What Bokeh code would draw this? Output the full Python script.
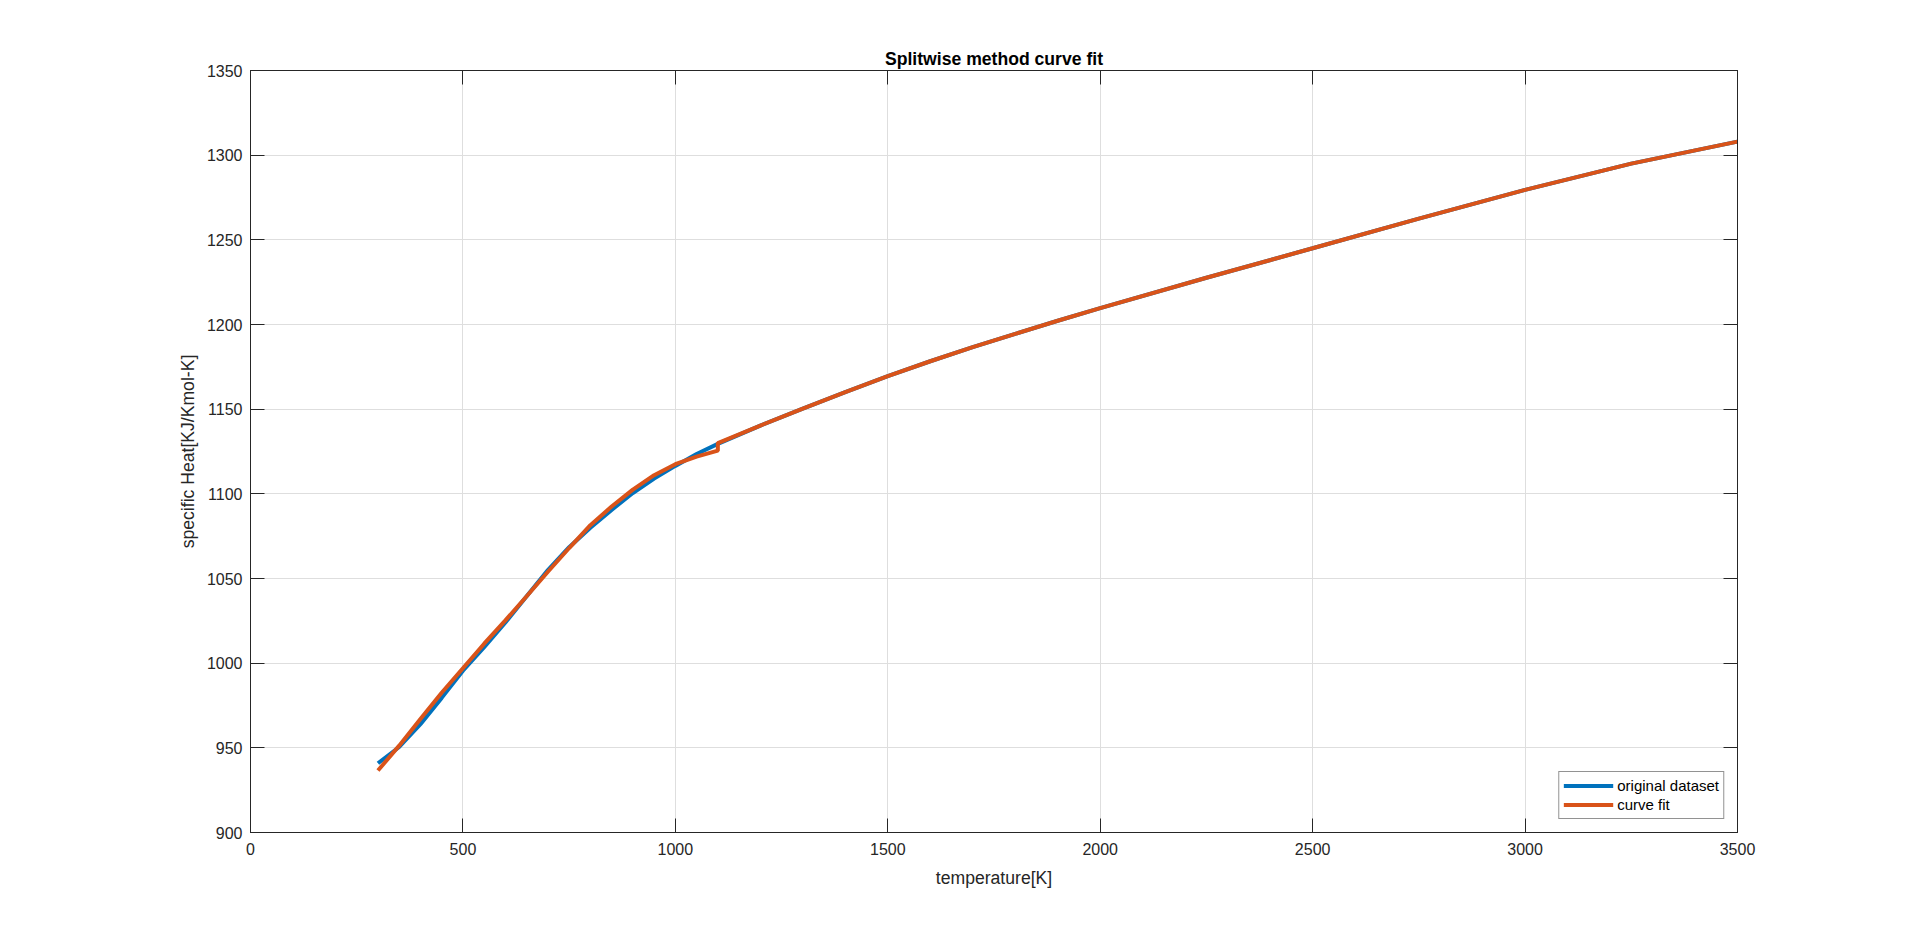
from bokeh.plotting import figure
from bokeh.models import Range1d, FixedTicker, LinearAxis, Legend, LegendItem
from bokeh.embed import file_html
from bokeh.resources import INLINE

# ---- data ----
temperature_original = [300, 350, 400, 450, 500, 550, 600, 650, 700, 750, 800, 850, 900,
                        950, 1000, 1050, 1100, 1200, 1300, 1400, 1500, 1600, 1700, 1800,
                        1900, 2000, 2250, 2500, 2750, 3000, 3250, 3500]
cp_original = [940.9, 950.5, 964.0, 979.5, 995.5, 1009.5, 1024.0, 1039.5, 1055.0, 1068.5,
               1080.0, 1090.5, 1100.5, 1109.0, 1116.5, 1123.5, 1129.5, 1140.3, 1150.3,
               1160.0, 1169.5, 1178.3, 1186.6, 1194.5, 1202.2, 1209.7, 1227.6, 1245.0,
               1262.5, 1279.5, 1295.0, 1308.0]

temperature_fit = [300, 350, 400, 450, 500, 550, 600, 650, 700, 750, 800, 850, 900, 950,
                   1000, 1050, 1100, 1100, 1200, 1300, 1400, 1500, 1600, 1700, 1800, 1900,
                   2000, 2250, 2500, 2750, 3000, 3250, 3500]
cp_fit = [936.6, 951.3, 967.0, 982.5, 997.0, 1011.5, 1025.3, 1039.5, 1054.0, 1068.0, 1081.5,
          1092.5, 1102.5, 1111.0, 1117.5, 1122.0, 1125.5, 1130.0, 1140.3, 1150.3, 1160.0,
          1169.5, 1178.3, 1186.6, 1194.5, 1202.2, 1209.7, 1227.6, 1245.0, 1262.5, 1279.5,
          1295.0, 1308.0]

x_ticks = [0, 500, 1000, 1500, 2000, 2500, 3000, 3500]
y_ticks = [900, 950, 1000, 1050, 1100, 1150, 1200, 1250, 1300, 1350]

title_text = "Splitwise method curve fit"
x_label = "temperature[K]"
y_label = "specific Heat[KJ/Kmol-K]"
series_names = ["original dataset", "curve fit"]

FONT = "Liberation Sans"
AX = "#262626"

p = figure(width=1904, height=920, output_backend="svg", toolbar_location=None,
           x_range=Range1d(0, 3500), y_range=Range1d(900, 1350),
           min_border_left=250, min_border_right=167, min_border_top=70, min_border_bottom=88,
           x_axis_label=x_label, y_axis_label=y_label)

p.title.text = title_text
p.title.align = "center"
p.title.text_font = FONT
p.title.text_font_size = "17.6px"
p.title.text_font_style = "bold"
p.title.text_color = "#000000"
p.title.standoff = 4

bottom_axis = p.below[0]
left_axis = p.left[0]

top_axis = LinearAxis(major_label_text_font_size="1px", major_label_text_color=None,
                      major_label_standoff=0)
right_axis = LinearAxis(major_label_text_font_size="1px", major_label_text_color=None,
                        major_label_standoff=0)
p.add_layout(top_axis, "above")
p.add_layout(right_axis, "right")

for axis in (bottom_axis, top_axis):
    axis.ticker = FixedTicker(ticks=x_ticks)
for axis in (left_axis, right_axis):
    axis.ticker = FixedTicker(ticks=y_ticks)

for axis in (bottom_axis, top_axis, left_axis, right_axis):
    axis.major_tick_in = 14
    axis.major_tick_out = 0
    axis.minor_tick_line_color = None
    axis.axis_line_color = AX
    axis.major_tick_line_color = AX

for axis in (bottom_axis, left_axis):
    axis.major_label_text_color = AX
    axis.major_label_text_font = FONT
    axis.major_label_text_font_size = "16px"
    axis.axis_label_text_font = FONT
    axis.axis_label_text_font_style = "normal"
    axis.axis_label_text_color = AX
    axis.axis_label_text_font_size = "17.6px"

bottom_axis.major_label_standoff = 10
left_axis.major_label_standoff = 8
bottom_axis.axis_label_standoff = 10
left_axis.axis_label_standoff = 6

p.xgrid.ticker = FixedTicker(ticks=x_ticks)
p.ygrid.ticker = FixedTicker(ticks=y_ticks)
p.xgrid.grid_line_color = "#dedede"
p.ygrid.grid_line_color = "#dedede"
p.outline_line_color = AX
p.background_fill_color = "white"
p.border_fill_color = "white"

r_orig = p.line(temperature_original, cp_original, line_color="#0072BD", line_width=4)
r_fit = p.line(temperature_fit, cp_fit, line_color="#D95319", line_width=4)

legend = Legend(items=[LegendItem(label=series_names[0], renderers=[r_orig]),
                       LegendItem(label=series_names[1], renderers=[r_fit])],
                location="bottom_right", margin=13, padding=4, spacing=0,
                glyph_width=50, glyph_height=19, label_height=19, label_standoff=4,
                label_text_font=FONT, label_text_font_size="15px", label_text_color="#000000",
                border_line_color=AX, border_line_width=1, background_fill_color="white",
                background_fill_alpha=1.0)
p.add_layout(legend)

open("out.html", "w").write(file_html(p, INLINE))
